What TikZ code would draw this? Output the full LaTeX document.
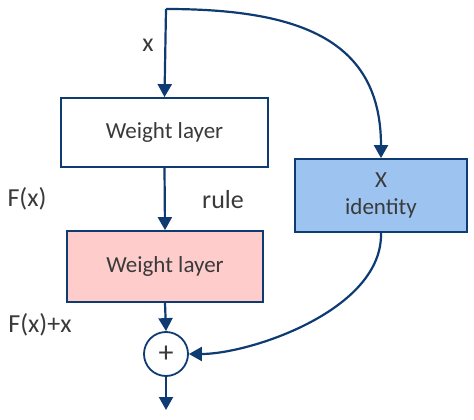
\documentclass[tikz,border=0pt]{standalone}
\usepackage{fontspec}
\setmainfont{Carlito}
\usetikzlibrary{arrows.meta}
\definecolor{navy}{HTML}{0F3B73}
\definecolor{boxblue}{HTML}{9DC3F0}
\definecolor{boxpink}{HTML}{FFCCCC}
\definecolor{txt}{HTML}{3A3A3A}
\tikzset{
  conn/.style={draw=navy, line width=2.2pt, -{Triangle[width=14pt,length=13pt]}},
  layerbox/.style={draw=navy, line width=1.8pt, minimum width=#1, text=txt, font=\fontsize{23}{27}\selectfont},
  lbl/.style={text=txt, font=\fontsize{26}{30}\selectfont, inner sep=0pt},
}
\begin{document}
\begin{tikzpicture}[x=1pt,y=-1pt]
\useasboundingbox (0,0) rectangle (474,420);
\fill[white] (0,0) rectangle (474,420);
\coordinate (top) at (166,9);
\node[layerbox=207pt, minimum height=69pt, fill=white] (w1) at (164.5,132.5) {Weight layer};
\node[layerbox=196pt, minimum height=71pt, fill=boxpink] (w2) at (165,266.5) {Weight layer};
\node[layerbox=172pt, minimum height=73pt, fill=boxblue, align=center, font=\fontsize{23}{27}\selectfont] (id) at (381,195.5) {X\\identity};
\node[draw=navy, line width=1.8pt, circle, minimum size=44pt, inner sep=0pt, text=txt, font=\fontsize{30}{34}\selectfont] (plus) at (166,354) {+};
\coordinate (out) at (166,410);
\node[lbl] (lx) at (148,45) {x};
\node[lbl] (lfx) at (27,199) {F(x)};
\node[lbl] (lrule) at (223,200) {rule};
\node[lbl] (lfxx) at (40,325) {F(x)+x};
\draw[conn] (top) -- (w1.north);
\draw[conn] (top) .. controls (300,9) and (381,40) .. (id.north);
\draw[conn] (w1.south) -- (w2.north);
\draw[conn] (w2.south) -- (plus.north);
\draw[conn] (plus.south) -- (out);
\draw[conn] (id.south) .. controls (383,310) and (250,354) .. (plus.east);
\end{tikzpicture}
\end{document}
